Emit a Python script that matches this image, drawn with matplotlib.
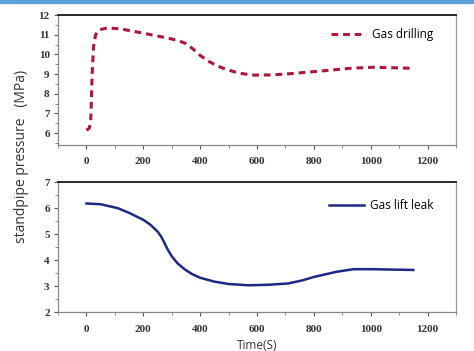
import matplotlib
matplotlib.use("Agg")
import matplotlib.pyplot as plt
from matplotlib.ticker import MultipleLocator
from matplotlib.patches import Rectangle

# gas drilling curve (top panel)
t_drill = [0, 10, 15, 17, 20, 25, 32, 45, 75, 120, 200, 280, 320, 350, 375,
           400, 430, 460, 490, 520, 550, 590, 650, 700, 820, 930, 1010, 1140]
p_drill = [6.15, 6.25, 6.6, 7.5, 9.0, 10.4, 11.0, 11.25, 11.35, 11.3, 11.08,
           10.85, 10.72, 10.55, 10.28, 9.95, 9.65, 9.42, 9.25, 9.12, 9.02,
           8.95, 8.96, 9.0, 9.15, 9.3, 9.35, 9.3]

# gas lift leak curve (bottom panel)
t_leak = [0, 50, 110, 150, 200, 225, 250, 262, 275, 285, 300, 320, 345, 370,
          400, 450, 500, 570, 640, 710, 760, 800, 880, 940, 1000, 1150]
p_leak = [6.18, 6.15, 6.0, 5.82, 5.55, 5.36, 5.1, 4.92, 4.65, 4.42, 4.15,
          3.88, 3.65, 3.47, 3.32, 3.17, 3.08, 3.03, 3.05, 3.1, 3.22, 3.35,
          3.55, 3.65, 3.65, 3.62]

xticks = [0, 200, 400, 600, 800, 1000, 1200]

fig = plt.figure(figsize=(4.74, 3.51), dpi=100)
fig.patches.append(Rectangle((0, 0.991), 1, 0.009, transform=fig.transFigure,
                             color="#5aa2d8", zorder=0))

ax1 = fig.add_axes([0.1224, 0.587, 0.8396, 0.370])
ax2 = fig.add_axes([0.1224, 0.111, 0.8396, 0.370])


def style(ax, ylim):
    ax.set_xlim(-100, 1300)
    ax.set_ylim(*ylim)
    ax.set_xticks(xticks)
    ax.xaxis.set_minor_locator(MultipleLocator(100))
    ax.yaxis.set_major_locator(MultipleLocator(1))
    ax.yaxis.set_minor_locator(MultipleLocator(0.5))
    ax.tick_params(which="major", length=3, width=0.8, color="#555",
                   labelsize=8, labelcolor="#333", pad=6)
    ax.tick_params(which="minor", length=2, width=0.6, color="#777")
    ax.tick_params(axis="y", which="major", pad=3)
    for lab in ax.get_xticklabels() + ax.get_yticklabels():
        lab.set_family("Liberation Serif")
        lab.set_fontweight("bold")
    ax.spines["top"].set_color("#2a2a22")
    ax.spines["top"].set_linewidth(1.4)
    ax.spines["left"].set_color("#888")
    ax.spines["right"].set_color("#999")
    ax.spines["bottom"].set_color("#888")
    for s in ("left", "right", "bottom"):
        ax.spines[s].set_linewidth(0.9)


ax1.plot(t_drill, p_drill, color="#b0153a", lw=2.2, ls=(0, (2.2, 1.6)),
         label="Gas drilling")
style(ax1, (5.4, 12))
ax1.legend(loc="upper right", frameon=False, handlelength=3.0,
           prop={"family": "Open Sans", "size": 8.5},
           bbox_to_anchor=(0.97, 0.985), handletextpad=0.5)

ax2.plot(t_leak, p_leak, color="#1c2a85", lw=1.8, label="Gas lift leak")
style(ax2, (2, 7))
ax2.legend(loc="upper right", frameon=False, handlelength=3.0,
           prop={"family": "Open Sans", "size": 8.5},
           bbox_to_anchor=(0.97, 0.955), handletextpad=0.5)

fig.text(0.046, 0.553, "standpipe pressure   (MPa)", rotation=90,
         ha="center", va="center", family="Open Sans", fontsize=10,
         color="#333")
fig.text(0.542, 0.017, "Time(S)", ha="center", va="center",
         family="Open Sans", fontsize=8.5, color="#333")

fig.savefig("out.png", dpi=100)
